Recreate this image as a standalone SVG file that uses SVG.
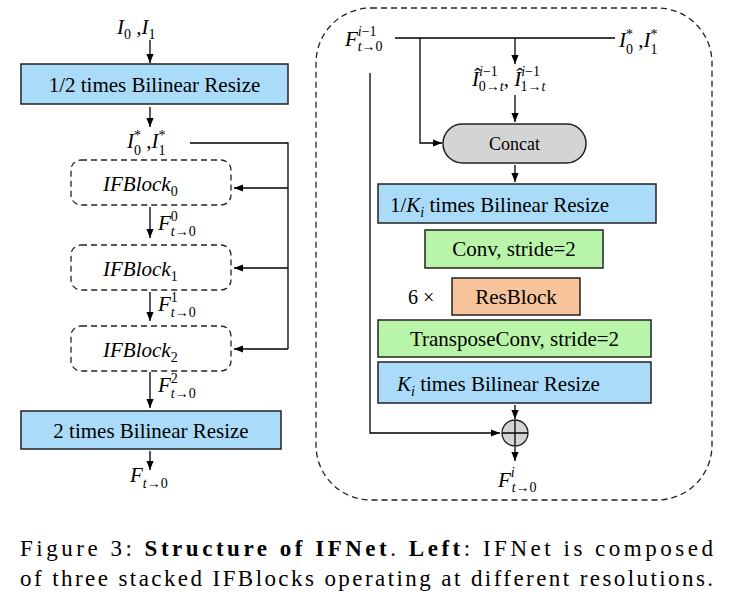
<svg xmlns="http://www.w3.org/2000/svg" width="733" height="599" viewBox="0 0 733 599" font-family="'Liberation Serif', 'Times New Roman', 'DejaVu Serif', serif">
<defs>
<marker id="ah" viewBox="0 0 10 10" refX="10" refY="5" markerWidth="7" markerHeight="7" orient="auto"><path d="M0,1 L10,5 L0,9 z" fill="#000"/></marker>
<style>
text{fill:#000}
.t{font-size:21px}
.m{font-style:italic;font-size:21px}
.s{font-size:14px}
.blue{fill:#aadcfa;stroke:#222;stroke-width:1.5}
.green{fill:#b8f5a8;stroke:#222;stroke-width:1.5}
.orange{fill:#f8c49c;stroke:#222;stroke-width:1.5}
.dash{fill:#fff;stroke:#222;stroke-width:1.3;stroke-dasharray:6,4}
.c{fill:none;stroke:#000;stroke-width:1.3}
.a{fill:none;stroke:#000;stroke-width:1.3;marker-end:url(#ah)}
</style>
</defs>
<rect width="733" height="599" fill="#fff"/>
<rect x="316" y="8" width="396" height="492" rx="55" class="dash" id="panel"/>
<g id="connectors">
<path class="a" d="M150,40 V63"/>
<path class="a" d="M150,107 V127"/>
<path class="c" d="M190,143 H288 V349"/>
<path class="a" d="M288,188 H234"/>
<path class="a" d="M288,268 H234"/>
<path class="a" d="M288,349 H234"/>
<path class="a" d="M150,207 V238"/>
<path class="a" d="M150,292 V321"/>
<path class="a" d="M150,372 V408"/>
<path class="a" d="M150,451 V470"/>
<path class="c" d="M395,38 H615"/>
<path class="a" d="M420,38 V143 H442"/>
<path class="a" d="M515,38 V64"/>
<path class="a" d="M515,95 V122"/>
<path class="a" d="M515,165 V182"/>
<path class="a" d="M515,405 V419"/>
<path class="a" d="M370,73 V433 H500"/>
<path class="a" d="M515,447 V461"/>
</g>
<g id="in0"><text x="117" y="34" class="m">I<tspan class="s" dy="5" font-style="normal">0</tspan><tspan dy="-5" font-style="normal"> ,</tspan>I<tspan class="s" dy="5" font-style="normal">1</tspan></text></g>
<g id="resize1"><rect x="21" y="64" width="267" height="40" class="blue"/><text x="154.5" y="92" class="t" text-anchor="middle">1/2 times Bilinear Resize</text></g>
<g id="instar"><text x="127" y="148" class="m">I<tspan class="s" dy="-8" font-style="normal">*</tspan><tspan class="s" dx="-7" dy="15" font-style="normal">0</tspan><tspan dy="-7" font-style="normal"> ,</tspan>I<tspan class="s" dy="-8" font-style="normal">*</tspan><tspan class="s" dx="-7" dy="15" font-style="normal">1</tspan></text></g>
<g id="ifb0"><rect x="71" y="160" width="160" height="45" rx="10" class="dash"/><text x="103" y="191" class="m" font-size="23">IFBlock<tspan class="s" font-size="15" dy="5" font-style="normal">0</tspan></text></g>
<g id="ifb1"><rect x="71" y="245" width="160" height="45" rx="10" class="dash"/><text x="103" y="276" class="m" font-size="23">IFBlock<tspan class="s" font-size="15" dy="5" font-style="normal">1</tspan></text></g>
<g id="ifb2"><rect x="71" y="326" width="160" height="45" rx="10" class="dash"/><text x="103" y="357" class="m" font-size="23">IFBlock<tspan class="s" font-size="15" dy="5" font-style="normal">2</tspan></text></g>
<g id="f0"><text x="158" y="230" class="m">F<tspan class="s" font-style="normal" dy="-9">0</tspan><tspan class="s" dx="-7" dy="15">t</tspan><tspan class="s" font-style="normal">→0</tspan></text></g>
<g id="f1"><text x="158" y="311" class="m">F<tspan class="s" font-style="normal" dy="-9">1</tspan><tspan class="s" dx="-7" dy="15">t</tspan><tspan class="s" font-style="normal">→0</tspan></text></g>
<g id="f2"><text x="158" y="392" class="m">F<tspan class="s" font-style="normal" dy="-9">2</tspan><tspan class="s" dx="-7" dy="15">t</tspan><tspan class="s" font-style="normal">→0</tspan></text></g>
<g id="resize2"><rect x="21" y="411" width="260" height="38" class="blue"/><text x="151" y="438" class="t" text-anchor="middle">2 times Bilinear Resize</text></g>
<g id="fout"><text x="130" y="482" class="m">F<tspan class="s" dy="6">t</tspan><tspan class="s" font-style="normal">→0</tspan></text></g>
<g id="fim1"><text x="345" y="46" class="m">F<tspan class="s" dy="-10">i</tspan><tspan class="s" font-style="normal">−1</tspan><tspan class="s" dx="-19" dy="15">t</tspan><tspan class="s" font-style="normal">→0</tspan></text></g>
<g id="istar2"><text x="619" y="47" class="m">I<tspan class="s" dy="-8" font-style="normal">*</tspan><tspan class="s" dx="-7" dy="15" font-style="normal">0</tspan><tspan dy="-7" font-style="normal"> ,</tspan>I<tspan class="s" dy="-8" font-style="normal">*</tspan><tspan class="s" dx="-7" dy="15" font-style="normal">1</tspan></text></g>
<g id="ihat"><text x="472" y="86" class="m">Î<tspan class="s" dy="-10">i</tspan><tspan class="s" font-style="normal">−1</tspan><tspan class="s" font-style="normal" dx="-19" dy="15">0→</tspan><tspan class="s">t</tspan><tspan dy="-5" font-style="normal">, </tspan>Î<tspan class="s" dy="-10">i</tspan><tspan class="s" font-style="normal">−1</tspan><tspan class="s" font-style="normal" dx="-19" dy="15">1→</tspan><tspan class="s">t</tspan></text></g>
<g id="concat"><rect x="443" y="124" width="143" height="39" rx="19.5" fill="#d4d4d4" stroke="#222" stroke-width="1.5"/><text x="514.5" y="150" font-size="18" text-anchor="middle">Concat</text></g>
<g id="resk"><rect x="378" y="184" width="278" height="39" class="blue"/><text x="390" y="212" class="t">1/<tspan font-style="italic">K</tspan><tspan class="s" font-style="italic" dy="5">i</tspan><tspan dy="-5"> times Bilinear Resize</tspan></text></g>
<g id="conv"><rect x="425" y="230" width="178" height="38" class="green"/><text x="514" y="256" class="t" text-anchor="middle">Conv, stride=2</text></g>
<g id="res"><text x="408" y="304" font-size="20">6 ×</text><rect x="452" y="278" width="128" height="37" class="orange"/><text x="516" y="304" class="t" text-anchor="middle">ResBlock</text></g>
<g id="tconv"><rect x="378" y="320" width="273" height="37" class="green"/><text x="514.5" y="346" class="t" text-anchor="middle">TransposeConv, stride=2</text></g>
<g id="resk2"><rect x="378" y="362" width="273" height="41" class="blue"/><text x="397" y="391" class="t"><tspan font-style="italic">K</tspan><tspan class="s" font-style="italic" dy="5">i</tspan><tspan dy="-5"> times Bilinear Resize</tspan></text></g>
<g id="plus"><circle cx="515" cy="433" r="13" fill="#d4d4d4" stroke="#222" stroke-width="1.3"/><path class="c" d="M502,433 H528 M515,420 V446"/></g>
<g id="fi"><text x="498" y="487" class="m">F<tspan class="s" dy="-10">i</tspan><tspan class="s" dx="-3" dy="15">t</tspan><tspan class="s" font-style="normal">→0</tspan></text></g>
<g id="caption" font-size="23">
<text x="20" y="556" textLength="693" lengthAdjust="spacing">Figure 3: <tspan font-weight="bold">Structure of IFNet</tspan>.  <tspan font-weight="bold">Left</tspan>: IFNet is composed</text>
<text x="20" y="586" textLength="693" lengthAdjust="spacing">of three stacked IFBlocks operating at different resolutions.</text>
</g>
</svg>
